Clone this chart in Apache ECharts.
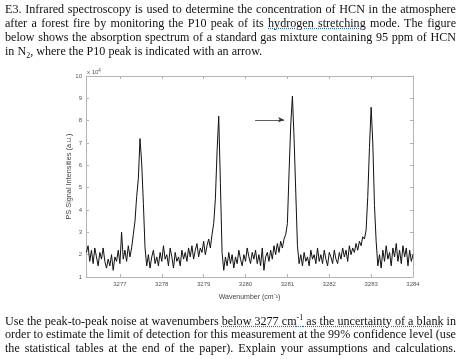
<!DOCTYPE html>
<html><head><meta charset="utf-8">
<script src="https://cdn.jsdelivr.net/npm/echarts@6/dist/echarts.min.js"></script>
<style>
html,body{margin:0;padding:0;background:#fff;width:476px;height:359px;overflow:hidden;}
#chart{position:absolute;left:0;top:0;width:476px;height:359px;}
.txt{position:absolute;left:5px;width:451px;font-family:"Liberation Serif","Times New Roman",serif;font-size:12.1px;color:#111;}
.ln{height:14px;line-height:14px;white-space:nowrap;text-align:left;}
.u{text-decoration:underline dotted #3b6a9a;}
sub,sup{font-size:8px;line-height:0;}
</style></head>
<body>
<div id="chart"></div>
<div class="txt" style="top:2px">
<div class="ln j">E3. Infrared spectroscopy is used to determine the concentration of HCN in the atmosphere</div>
<div class="ln j">after a forest fire by monitoring the P10 peak of its <span class="u">hydrogen stretching</span> mode. The figure</div>
<div class="ln j">below shows the absorption spectrum of a standard gas mixture containing 95 ppm of HCN</div>
<div class="ln">in N<sub>2</sub>, where the P10 peak is indicated with an arrow.</div>
</div>
<div class="txt" style="top:315px">
<div class="ln j" style="height:13.3px;line-height:13.3px">Use the peak-to-peak noise at wavenumbers <span class="u">below 3277 cm<sup>-1</sup> as the uncertainty of a blank</span> in</div>
<div class="ln j" style="height:13.3px;line-height:13.3px">order to estimate the limit of detection for this measurement at the 99% confidence level (use</div>
<div class="ln j" style="height:13.3px;line-height:13.3px">the statistical tables at the end of the paper). Explain your assumptions and calculations.</div>
</div>
<script>
const wavenumbers = [
3276.20,3276.24,3276.28,3276.32,3276.36,3276.40,3276.44,3276.48,3276.52,3276.56,
3276.60,3276.64,3276.68,3276.72,3276.76,3276.80,3276.84,3276.88,3276.92,3276.96,
3277.00,3277.04,3277.08,3277.12,3277.16,3277.20,3277.24,3277.28,3277.32,3277.36,
3277.40,3277.44,3277.48,3277.52,3277.56,3277.60,3277.64,3277.68,3277.72,3277.76,
3277.80,3277.84,3277.88,3277.92,3277.96,3278.00,3278.04,3278.08,3278.12,3278.16,
3278.20,3278.24,3278.28,3278.32,3278.36,3278.40,3278.44,3278.48,3278.52,3278.56,
3278.60,3278.64,3278.68,3278.72,3278.76,3278.80,3278.84,3278.88,3278.92,3278.96,
3279.00,3279.04,3279.08,3279.12,3279.16,3279.20,3279.24,3279.28,3279.32,3279.36,
3279.40,3279.44,3279.48,3279.52,3279.56,3279.60,3279.64,3279.68,3279.72,3279.76,
3279.80,3279.84,3279.88,3279.92,3279.96,3280.00,3280.04,3280.08,3280.12,3280.16,
3280.20,3280.24,3280.28,3280.32,3280.36,3280.40,3280.44,3280.48,3280.52,3280.56,
3280.60,3280.64,3280.68,3280.72,3280.76,3280.80,3280.84,3280.88,3280.92,3280.96,
3281.00,3281.04,3281.08,3281.12,3281.16,3281.20,3281.24,3281.28,3281.32,3281.36,
3281.40,3281.44,3281.48,3281.52,3281.56,3281.60,3281.64,3281.68,3281.72,3281.76,
3281.80,3281.84,3281.88,3281.92,3281.96,3282.00,3282.04,3282.08,3282.12,3282.16,
3282.20,3282.24,3282.28,3282.32,3282.36,3282.40,3282.44,3282.48,3282.52,3282.56,
3282.60,3282.64,3282.68,3282.72,3282.76,3282.80,3282.84,3282.88,3282.92,3282.96,
3283.00,3283.04,3283.08,3283.12,3283.16,3283.20,3283.24,3283.28,3283.32,3283.36,
3283.40,3283.44,3283.48,3283.52,3283.56,3283.60,3283.64,3283.68,3283.72,3283.76,
3283.80,3283.84,3283.88,3283.92,3283.96,3284.00
];
// PS signal intensity, in units of 10^4 (a.u.)
const intensity = [
2.1,2.4,1.7,2.2,1.6,2.3,1.9,1.5,2.1,1.8,
2.3,1.7,1.4,1.8,1.5,2.0,1.3,1.9,1.7,2.2,
1.6,3.0,1.8,2.2,1.7,2.4,1.9,2.3,2.9,3.5,
4.6,5.4,7.2,6.1,4.3,2.3,1.5,2.0,1.4,1.9,
2.2,1.6,1.9,1.5,2.1,1.7,2.4,1.8,2.0,1.5,
2.3,1.9,1.4,2.1,1.7,1.9,1.5,2.2,1.8,2.1,
1.7,2.3,1.9,2.4,1.8,2.2,2.5,1.9,2.3,2.1,
2.6,2.0,2.4,2.7,2.3,2.9,3.4,4.5,6.6,8.2,
5.2,2.1,1.3,1.9,1.5,2.1,1.6,2.0,1.4,1.9,
1.6,2.2,1.8,1.5,2.0,1.7,2.3,1.9,1.6,2.1,
1.8,2.2,1.6,2.0,1.5,2.3,1.3,1.9,2.1,1.7,
2.2,1.8,2.4,2.0,2.5,2.1,2.6,2.3,2.7,2.9,
3.4,5.7,7.8,9.1,7.2,4.8,2.4,1.6,2.0,1.5,
2.1,1.7,1.9,1.5,2.2,1.8,2.0,1.6,2.3,1.7,
2.0,1.6,2.2,1.8,1.5,2.1,1.9,1.6,2.2,1.8,
1.6,2.1,1.8,2.3,1.9,2.2,1.7,2.4,2.0,2.3,
2.1,2.5,2.2,2.6,2.4,2.8,2.7,3.1,4.6,6.8,
8.6,7.0,4.2,2.6,1.5,2.0,1.4,2.2,1.7,2.4,
1.8,2.1,1.5,2.3,1.9,2.5,1.7,2.2,1.6,2.4,
1.9,2.3,1.5,2.2,1.7,2.0
];
const xRange = [3276.19, 3284];
const yRange = [1, 10];
const arrowFrom = [3280.23, 8.04];
const arrowTo = [3280.92, 8.04];

// justify each text line to the block width
document.querySelectorAll('.ln.j').forEach(el => {
  const span = document.createElement('span');
  while (el.firstChild) span.appendChild(el.firstChild);
  el.appendChild(span);
  const w = span.getBoundingClientRect().width;
  const spaces = (el.textContent.match(/ /g) || []).length;
  if (spaces) el.style.wordSpacing = ((451 - w) / spaces) + 'px';
});

const axisGray = '#b4b4b4';
const labelStyle = {fontSize:6, color:'#555', fontFamily:'Liberation Sans, Arial, sans-serif'};
const chart = echarts.init(document.getElementById('chart'), null, {renderer:'canvas'});
const baseX = {
  type:'value', min:xRange[0], max:xRange[1], splitNumber:8,
  axisLine:{show:true, onZero:false, lineStyle:{color:axisGray, width:1}},
  axisTick:{show:true, inside:true, length:3, lineStyle:{color:axisGray}},
  splitLine:{show:false}
};
const baseY = {
  type:'value', min:yRange[0], max:yRange[1], interval:1,
  axisLine:{show:true, onZero:false, lineStyle:{color:axisGray, width:1}},
  axisTick:{show:true, inside:true, length:3, lineStyle:{color:axisGray}},
  splitLine:{show:false}
};
chart.setOption({
  animation:false,
  backgroundColor:'#fff',
  grid:{left:86, right:63, top:76, bottom:82},
  xAxis:[
    Object.assign({}, baseX, {position:'bottom',
      axisLabel:Object.assign({showMinLabel:false, margin:4, formatter:v => String(v)}, labelStyle),
      name:'Wavenumber (cm⁻¹)', nameLocation:'middle', nameGap:17, nameMoveOverlap:false,
      nameTextStyle:{fontSize:7, color:'#444', fontFamily:'Liberation Sans, Arial, sans-serif'}}),
    Object.assign({}, baseX, {position:'top', axisLabel:{show:false}})
  ],
  yAxis:[
    Object.assign({}, baseY, {position:'left',
      axisLabel:Object.assign({margin:4}, labelStyle),
      name:'PS Signal Intensities (a.u.)', nameLocation:'middle', nameGap:14, nameRotate:90, nameMoveOverlap:false,
      nameTextStyle:{fontSize:7.3, color:'#444', fontFamily:'Liberation Sans, Arial, sans-serif'}}),
    Object.assign({}, baseY, {position:'right', axisLabel:{show:false}})
  ],
  graphic:[{
    type:'text', left:87, top:68,
    style:{text:'x 10{s|4}', fontSize:6, fill:'#555', fontFamily:'Liberation Sans, Arial, sans-serif',
      rich:{s:{fontSize:4.5, verticalAlign:'top', padding:[0,0,4,0]}}}
  }],
  series:[{
    type:'line', xAxisIndex:0, yAxisIndex:0,
    data: wavenumbers.map((w,i)=>[w, intensity[i]]),
    showSymbol:false, symbol:'none',
    lineStyle:{color:'#111', width:1},
    markLine:{silent:true, symbol:['none','arrow'], symbolSize:[4,6], label:{show:false},
      lineStyle:{color:'#333', width:0.8, type:'solid'},
      data:[[{coord:arrowFrom},{coord:arrowTo}]]}
  }]
});
</script>
</body></html>
